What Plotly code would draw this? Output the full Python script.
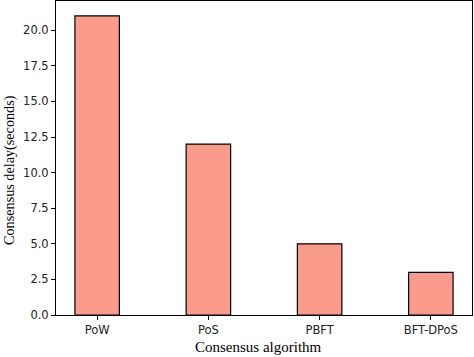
import plotly.graph_objects as go

algorithms = ["PoW", "PoS", "PBFT", "BFT-DPoS"]
delays = [21, 12, 5, 3]
y_ticks = [0, 2.5, 5, 7.5, 10, 12.5, 15, 17.5, 20]
y_tick_text = ["0.0", "2.5", "5.0", "7.5", "10.0", "12.5", "15.0", "17.5", "20.0"]

fig = go.Figure(go.Bar(
    x=list(range(len(algorithms))), y=delays, width=0.4,
    marker=dict(color="#FB9B8C", line=dict(color="black", width=1.2)),
))

fig.update_layout(
    width=474, height=357,
    margin=dict(l=56, r=2, t=1, b=42, autoexpand=False),
    paper_bgcolor="white", plot_bgcolor="white",
    showlegend=False,
    annotations=[
        dict(text="Consensus algorithm", xref="paper", yref="paper", x=0.487, y=0,
             yshift=-32, xanchor="center", yanchor="middle", showarrow=False,
             font=dict(family="Liberation Serif", size=15, color="black")),
        dict(text="Consensus delay(seconds)", xref="paper", yref="paper", x=0, y=0.462,
             xshift=-46, textangle=-90, xanchor="center", yanchor="middle", showarrow=False,
             font=dict(family="Liberation Serif", size=14.2, color="black")),
    ],
)
fig.update_xaxes(
    range=[-0.37, 3.37], tickvals=list(range(len(algorithms))), ticktext=algorithms,
    ticks="outside", ticklen=4, tickcolor="black", automargin=False,
    showline=True, linecolor="black", linewidth=1, mirror=True, showgrid=False, zeroline=False,
    tickfont=dict(family="DejaVu Sans", size=11.5, color="#222"),
)
fig.update_yaxes(
    range=[0, 22.05], tickvals=y_ticks, ticktext=y_tick_text,
    ticks="outside", ticklen=4, tickcolor="black", automargin=False,
    showline=True, linecolor="black", linewidth=1, mirror=True, showgrid=False, zeroline=False,
    tickfont=dict(family="DejaVu Sans", size=11.5, color="#222"),
)

fig.write_html("out.html", config={"displayModeBar": False},
               post_script="document.body.style.margin='0';")
